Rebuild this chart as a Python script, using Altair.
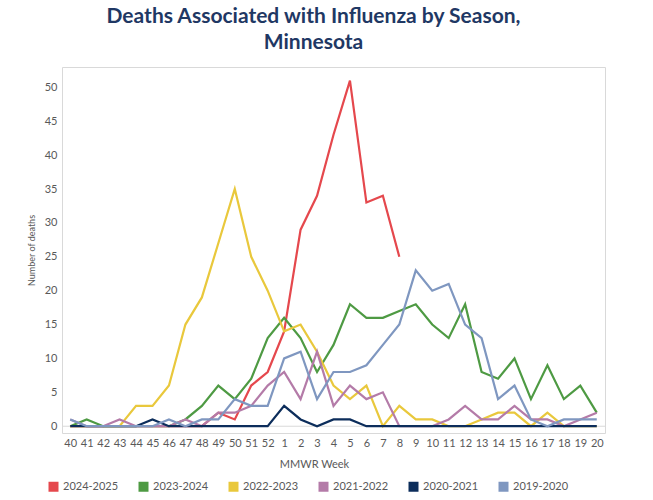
import altair as alt
import pandas as pd

# MMWR weeks of the flu season, week 40 through week 20 of the next year
weeks = [str(w) for w in list(range(40, 53)) + list(range(1, 21))]

seasons = ["2024-2025", "2023-2024", "2022-2023", "2021-2022", "2020-2021", "2019-2020"]
colors = ["#e5484d", "#4e9a43", "#e9c83c", "#b47ba8", "#0c2d5b", "#7f97c0"]

# Weekly influenza-associated deaths per season
s2024_2025 = [0, 0, 0, 0, 0, 0, 0, 0, 0, 2, 1, 6, 8, 14, 29, 34, 43, 51, 33, 34, 25]
s2023_2024 = [0, 1, 0, 0, 0, 0, 0, 1, 3, 6, 4, 7, 13, 16, 13, 8, 12, 18, 16, 16, 17,
              18, 15, 13, 18, 8, 7, 10, 4, 9, 4, 6, 2]
s2022_2023 = [0, 0, 0, 0, 3, 3, 6, 15, 19, 27, 35, 25, 20, 14, 15, 11, 6, 4, 6, 0, 3,
              1, 1, 0, 0, 1, 2, 2, 0, 2, 0, 0, 0]
s2021_2022 = [1, 0, 0, 1, 0, 0, 0, 1, 0, 2, 2, 3, 6, 8, 4, 11, 3, 6, 4, 5, 0,
              0, 0, 1, 3, 1, 1, 3, 1, 1, 0, 1, 2]
s2020_2021 = [0, 0, 0, 0, 0, 1, 0, 0, 0, 0, 0, 0, 0, 3, 1, 0, 1, 1, 0, 0, 0,
              0, 0, 0, 0, 0, 0, 0, 0, 0, 0, 0, 0]
s2019_2020 = [1, 0, 0, 0, 0, 0, 1, 0, 1, 1, 4, 3, 3, 10, 11, 4, 8, 8, 9, 12, 15,
              23, 20, 21, 15, 13, 4, 6, 1, 0, 1, 1, 1]

series = [s2024_2025, s2023_2024, s2022_2023, s2021_2022, s2020_2021, s2019_2020]

rows = []
for season, values in zip(seasons, series):
    for i, v in enumerate(values):
        rows.append({"season": season, "week": weeks[i], "idx": i, "deaths": v})
df = pd.DataFrame(rows)

FONT = "Lato"
GRAY = "#595959"

x_scale = alt.Scale(type="point", padding=0.5)
y_scale = alt.Scale(domain=[-1, 53], nice=False, zero=False)
color_scale = alt.Scale(domain=seasons, range=colors)

x_axis = alt.Axis(
    title="MMWR Week",
    labelAngle=0,
    ticks=False,
    domain=False,
    labelPadding=4,
    labelFontSize=11,
    labelColor=GRAY,
    labelFont=FONT,
    titleFont=FONT,
    titleFontSize=11,
    titleFontWeight="normal",
    titleColor=GRAY,
    titlePadding=10,
    titleX=252,
)

y_axis = alt.Axis(
    title="Number of deaths",
    values=list(range(0, 55, 5)),
    labelOverlap=False,
    grid=False,
    ticks=False,
    domain=False,
    labelPadding=5,
    labelFontSize=11,
    labelColor=GRAY,
    labelFont=FONT,
    titleFont=FONT,
    titleFontSize=9,
    titleFontWeight="normal",
    titleColor=GRAY,
    titlePadding=8,
)

x_enc = alt.X("week:O", sort=weeks, scale=x_scale, axis=x_axis)
y_enc = alt.Y("deaths:Q", scale=y_scale, axis=y_axis)

# Light baseline at zero deaths
zero_line = alt.Chart(pd.DataFrame({"deaths": [0]})).mark_rule(
    color="#d9d9d9", strokeWidth=1
).encode(y=y_enc)

# Invisible filled squares that supply the solid legend swatches
swatches = alt.Chart(df).mark_square(opacity=0).encode(
    x=x_enc,
    y=y_enc,
    fill=alt.Fill(
        "season:N",
        sort=seasons,
        scale=color_scale,
        title=None,
        legend=alt.Legend(
            orient="none",
            legendX=-14,
            legendY=414,
            direction="horizontal",
            columns=6,
            symbolType="square",
            symbolSize=100,
            symbolStrokeWidth=0,
            symbolOpacity=1,
            labelFontSize=11,
            labelFont=FONT,
            labelColor=GRAY,
            labelOffset=4,
            columnPadding=19,
        ),
    ),
)

lines = alt.Chart(df).mark_line(strokeWidth=2.2).encode(
    x=x_enc,
    y=y_enc,
    color=alt.Color("season:N", sort=seasons, scale=color_scale, legend=None),
    detail="season:N",
    order="idx:Q",
)

chart = (
    alt.layer(zero_line, swatches, lines)
    .properties(
        width=543,
        height=366,
        title=alt.TitleParams(
            text=["Deaths Associated with Influenza by Season,", "Minnesota"],
            anchor="middle",
            frame="group",
            dx=-20,
            offset=14,
            font=FONT,
            fontSize=21,
            fontWeight="bold",
            color="#1f3864",
            lineHeight=26,
        ),
        autosize=alt.AutoSizeParams(type="none"),
        padding={"left": 62, "top": 67, "right": 48, "bottom": 67},
        background="white",
    )
    .configure_view(stroke="#d9d9d9", strokeWidth=1)
)

chart.save("out.html", embed_options={"renderer": "svg", "actions": False})
